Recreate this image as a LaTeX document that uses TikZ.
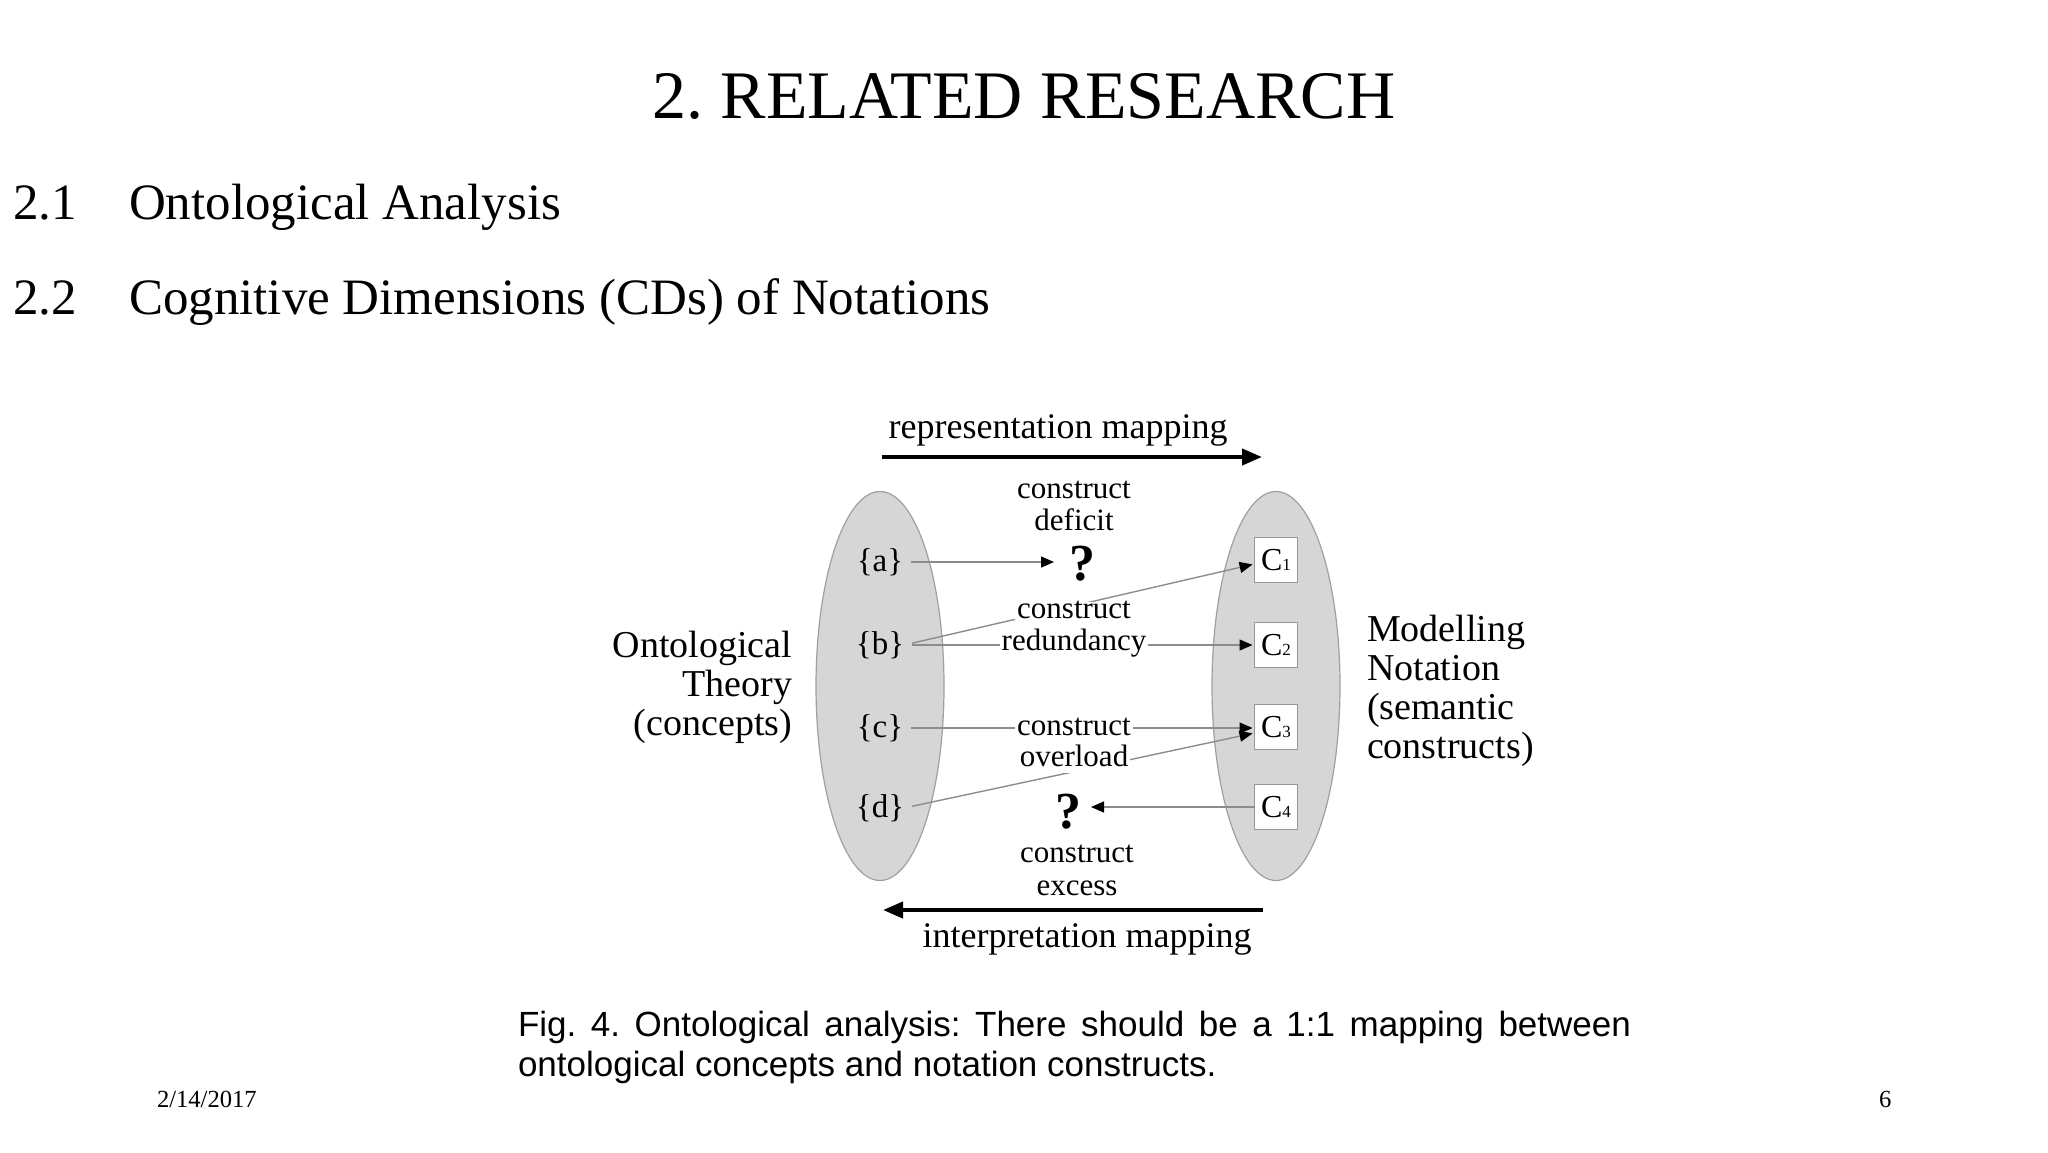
\documentclass[tikz,border=0pt]{standalone}
\usepackage{fontspec}
\setmainfont{Liberation Serif}
\newfontfamily\capfont{Liberation Sans}
\usetikzlibrary{arrows.meta,shapes.geometric}
\definecolor{ellfill}{RGB}{214,214,214}
\definecolor{elledge}{RGB}{160,160,160}
\definecolor{linegray}{RGB}{140,140,140}
\definecolor{boxedge}{RGB}{150,150,150}
\frenchspacing
\begin{document}
\begin{tikzpicture}[x=0.5pt,y=-0.5pt,
  every node/.style={inner sep=0pt,outer sep=0pt},
  titlefont/.style={font=\fontsize{34}{40}\selectfont},
  headfont/.style={font=\fontsize{25.5}{30}\selectfont},
  footfont/.style={font=\fontsize{12.3}{14}\selectfont},
  captionst/.style={font=\capfont\fontsize{17.5}{18}\selectfont},
  bigfig/.style={font=\fontsize{19}{23}\selectfont},
  mapfont/.style={font=\fontsize{18}{22}\selectfont},
  flabel/.style={font=\fontsize{15.5}{16}\selectfont, fill=white, inner xsep=1pt, inner ysep=1pt, text height=0.68em, text depth=0.24em},
  setitem/.style={font=\fontsize{16.5}{20}\selectfont},
  cbox/.style={draw=boxedge, fill=white, line width=0.6pt, minimum width=21.5pt, minimum height=22.5pt, font=\fontsize{16}{18}\selectfont},
  qmark/.style={font=\bfseries\fontsize{26}{30}\selectfont},
  ell/.style={ellipse, fill=ellfill, draw=elledge, line width=0.6pt, minimum width=64pt, minimum height=194.5pt},
  conn/.style={draw=linegray, line width=0.7pt, -{Triangle[length=6.5pt,width=5.5pt,color=black]}},
  bigarrow/.style={line width=2pt, -{Triangle[length=10pt,width=8pt]}},
]
\useasboundingbox (0,0) rectangle (2048,1152);

% headings
\node[titlefont, anchor=base] (title) at (1024,118) {2. RELATED RESEARCH};
\node[headfont, anchor=base west] (h1n) at (13,219) {2.1};
\node[headfont, anchor=base west] (h1t) at (129,219) {Ontological Analysis};
\node[headfont, anchor=base west] (h2n) at (13,314) {2.2};
\node[headfont, anchor=base west] (h2t) at (129,314) {Cognitive Dimensions (CDs) of Notations};

% ellipses
\node[ell] (Lell) at (880,686) {};
\node[ell] (Rell) at (1276,686) {};

% set items
\node[setitem] (a) at (880,562) {\{a\}};
\node[setitem] (b) at (880,645) {\{b\}};
\node[setitem] (c) at (880,728) {\{c\}};
\node[setitem] (d) at (880,808) {\{d\}};

% constructs
\node[cbox] (C1) at (1276,560) {C{\fontsize{8.5}{9}\selectfont 1}};
\node[cbox] (C2) at (1276,645) {C{\fontsize{8.5}{9}\selectfont 2}};
\node[cbox] (C3) at (1276,727) {C{\fontsize{8.5}{9}\selectfont 3}};
\node[cbox] (C4) at (1276,807) {C{\fontsize{8.5}{9}\selectfont 4}};

% question marks
\node[qmark] (q1) at (1082,564) {?};
\node[qmark] (q2) at (1068,812) {?};

% connectors
\draw[conn, shorten <=4pt, shorten >=7.5pt] (a.east) -- (a.east -| q1.west);
\draw[conn, shorten <=4pt, shorten >=1pt] (b.east) -- ([yshift=-2pt]C1.west);
\draw[conn, shorten <=4pt, shorten >=1pt] (b.east) -- (b.east -| C2.west);
\draw[conn, shorten <=4pt, shorten >=1pt] (c.east) -- (c.east -| C3.west);
\draw[conn, shorten <=4pt, shorten >=1pt] (d.east) -- ([yshift=-3pt]C3.west);
\draw[conn, shorten <=0pt, shorten >=5pt] (C4.west) -- (C4.west -| q2.east);

% labels between
\node[flabel, anchor=base] (l1a) at (1074,498) {construct};
\node[flabel, anchor=base] (l1b) at (1074,530) {deficit};
\node[flabel, anchor=base] (l2a) at (1074,618) {construct};
\node[flabel, anchor=base] (l2b) at (1074,650) {redundancy};
\node[flabel, anchor=base] (l3a) at (1074,735) {construct};
\node[flabel, anchor=base] (l3b) at (1074,766) {overload};
\node[flabel, anchor=base] (l4a) at (1077,862) {construct};
\node[flabel, anchor=base] (l4b) at (1077,895) {excess};

% side labels
\node[bigfig, anchor=base east] (ot1) at (792,657) {Ontological};
\node[bigfig, anchor=base east] (ot2) at (792,696) {Theory};
\node[bigfig, anchor=base east] (ot3) at (792,735) {(concepts)};
\node[bigfig, anchor=base west] (mn1) at (1367,641) {Modelling};
\node[bigfig, anchor=base west] (mn2) at (1367,680) {Notation};
\node[bigfig, anchor=base west] (mn3) at (1367,719) {(semantic};
\node[bigfig, anchor=base west] (mn4) at (1367,758) {constructs)};

% mapping arrows
\coordinate (rmS) at (882,457);
\coordinate (rmE) at (1262,457);
\draw[bigarrow] (rmS) -- (rmE);
\node[mapfont, anchor=base] (rmtext) at (1058,438) {representation mapping};
\coordinate (imS) at (1263,910);
\coordinate (imE) at (883,910);
\draw[bigarrow] (imS) -- (imE);
\node[mapfont, anchor=base] (imtext) at (1087,947) {interpretation mapping};

% caption
\node[captionst, anchor=base west] (cap1) at (518,1036) {\makebox[556.5pt][s]{Fig. 4. Ontological analysis: There should be a 1:1 mapping between}};
\node[captionst, anchor=base west] (cap2) at (518,1076) {ontological concepts and notation constructs.};

% footer
\node[footfont, anchor=base west] (date) at (157,1107) {2/14/2017};
\node[footfont, anchor=base west] (page) at (1879,1107) {6};
\end{tikzpicture}
\end{document}
